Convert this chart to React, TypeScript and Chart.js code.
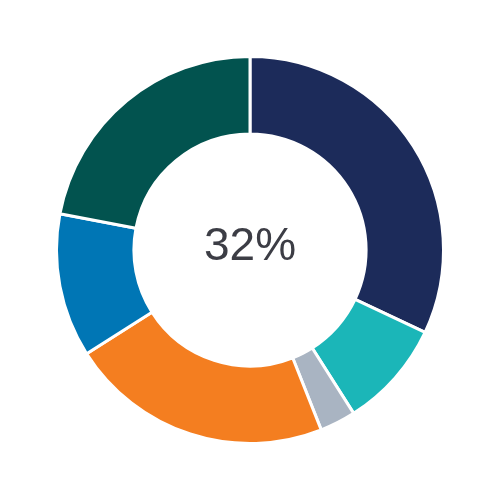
import React, { useEffect, useRef } from 'react';
import { Chart, registerables } from 'chart.js';

Chart.register(...registerables);

const labels = ['Navy', 'Teal', 'Gray', 'Orange', 'Blue', 'Green'];
const values = [32, 9, 3, 22, 12, 22];
const colors = ['#1c2b5a', '#1bb6b8', '#a9b4c2', '#f47e20', '#0076b5', '#02534f'];
const centerLabel = '32%';

const centerText = {
  id: 'centerText',
  afterDraw(chart: any) {
    const { ctx, chartArea } = chart;
    const cx = (chartArea.left + chartArea.right) / 2;
    const cy = (chartArea.top + chartArea.bottom) / 2;
    ctx.save();
    ctx.font = '46px "Liberation Sans", Arial, sans-serif';
    ctx.fillStyle = '#3c3d45';
    ctx.textAlign = 'center';
    ctx.textBaseline = 'middle';
    ctx.fillText(centerLabel, cx, cy - 3);
    ctx.restore();
  },
};

const App = () => {
  const chartRef = useRef<HTMLCanvasElement>(null);

  useEffect(() => {
    document.body.style.margin = '0';
    if (!chartRef.current) return;
    const chart = new Chart(chartRef.current, {
      type: 'doughnut',
      data: {
        labels,
        datasets: [
          {
            data: values,
            backgroundColor: colors,
            borderColor: '#ffffff',
            borderWidth: 3,
          },
        ],
      },
      options: {
        responsive: true,
        maintainAspectRatio: false,
        animation: false,
        cutout: '60%',
        layout: { padding: 55 },
        plugins: {
          legend: { display: false },
          tooltip: { enabled: false },
        },
      },
      plugins: [centerText],
    });
    return () => chart.destroy();
  }, []);

  return (
    <div style={{ width: 500, height: 500, background: '#fff' }}>
      <canvas ref={chartRef} />
    </div>
  );
};

export default App;
